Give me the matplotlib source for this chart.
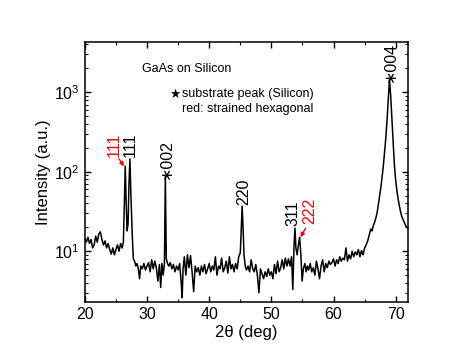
import numpy as np
import matplotlib
matplotlib.use("Agg")
import matplotlib.pyplot as plt
from matplotlib.ticker import MultipleLocator, LogLocator, NullFormatter

plt.rcParams['font.family'] = ['Liberation Sans', 'DejaVu Sans']

# ===========================================
# DATA
# ===========================================
two_theta = [
    20.0, 20.25, 20.5, 20.75, 21.0, 21.25, 21.5, 21.75, 22.0, 22.25,
    22.5, 22.75, 23.0, 23.25, 23.5, 23.75, 24.0, 24.25, 24.5, 24.75,
    25.0, 25.25, 25.5, 25.75, 26.0, 26.2, 26.35, 26.5, 26.65, 26.8,
    26.95, 27.1, 27.25, 27.4, 27.6, 27.8, 28.0, 28.2, 28.4, 28.6,
    28.8, 29.0, 29.25, 29.5, 29.75, 30.0, 30.25, 30.5, 30.75, 31.0,
    31.25, 31.5, 31.75, 32.0, 32.2, 32.4, 32.6, 32.8, 32.95, 33.1,
    33.3, 33.5, 33.75, 34.0, 34.25, 34.5, 34.75, 35.0, 35.25, 35.5,
    35.65, 35.8, 36.0, 36.25, 36.5, 36.75, 37.0, 37.25, 37.5, 37.75,
    38.0, 38.25, 38.5, 38.75, 39.0, 39.25, 39.5, 39.75, 40.0, 40.25,
    40.5, 40.75, 41.0, 41.25, 41.5, 41.75, 42.0, 42.25, 42.5, 42.75,
    43.0, 43.25, 43.5, 43.75, 44.0, 44.25, 44.5, 44.75, 45.0, 45.15,
    45.3, 45.45, 45.6, 45.8, 46.0, 46.25, 46.5, 46.75, 47.0, 47.25,
    47.5, 47.75, 48.0, 48.25, 48.5, 48.75, 49.0, 49.25, 49.5, 49.75,
    50.0, 50.25, 50.5, 50.75, 51.0, 51.25, 51.5, 51.75, 52.0, 52.25,
    52.5, 52.75, 53.0, 53.25, 53.45, 53.65, 53.8, 53.95, 54.15, 54.35,
    54.55, 54.75, 54.95, 55.15, 55.4, 55.6, 55.8, 56.0, 56.25, 56.5,
    56.75, 57.0, 57.25, 57.5, 57.75, 58.0, 58.25, 58.5, 58.75, 59.0,
    59.25, 59.5, 59.75, 60.0, 60.25, 60.5, 60.75, 61.0, 61.25, 61.5,
    61.75, 62.0, 62.25, 62.5, 62.75, 63.0, 63.25, 63.5, 63.75, 64.0,
    64.25, 64.5, 64.75, 65.0, 65.25, 65.5, 65.75, 66.0, 66.2, 66.4,
    66.6, 66.8, 67.0, 67.2, 67.4, 67.6, 67.8, 68.0, 68.2, 68.4,
    68.6, 68.8, 69.0, 69.2, 69.4, 69.6, 69.8, 70.0, 70.2, 70.4,
    70.6, 70.8, 71.0, 71.2, 71.4, 71.6, 71.8, 72.0,
]
intensity = [
    14.5, 13, 15, 12.5, 14, 11, 12, 15.5, 13, 16.5,
    17.5, 14, 12, 13.5, 11, 12.5, 10.5, 9.2, 11, 9,
    10.5, 12, 10, 12.5, 11, 13, 40, 118, 40, 18,
    22, 70, 145, 55, 18, 8, 7.5, 6.5, 7, 6,
    4.5, 6.5, 6, 7, 5.8, 6.5, 7.2, 5.5, 7.8, 6,
    7.5, 6.2, 4.2, 6.8, 3.5, 7, 5, 7, 87, 8,
    7, 6.5, 7.2, 6, 6.8, 5.5, 6.5, 5.8, 7, 4,
    2.6, 6, 8.5, 5, 9, 6.2, 8.8, 5.5, 3.1, 6.5,
    5.5, 6.2, 5, 6.5, 5.5, 6.8, 5.2, 6, 7, 5.5,
    6.5, 5.8, 8.5, 5, 6.5, 6, 8.2, 5.5, 6.2, 7.5,
    5.3, 8.5, 6, 6.8, 5.5, 7, 6, 8.5, 9.5, 18,
    37, 20, 9, 6.5, 5.8, 6.5, 5.5, 7.8, 6, 5.5,
    6.8, 5, 3, 6, 5.2, 4.5, 5.5, 4.8, 6, 5,
    5.5, 4.5, 6.8, 5.2, 7.5, 5.5, 6.2, 7.8, 6, 8.2,
    6.5, 8, 6.5, 8.5, 3.3, 12, 19.5, 11, 9, 12,
    15, 9, 4.2, 6, 7, 5.5, 6.5, 5.8, 7, 5.5,
    6.2, 5, 7.5, 6, 4.5, 6.5, 7.8, 5.5, 7, 6.2,
    7.5, 6.8, 7.2, 8, 6.5, 7.8, 7, 8.5, 7.5, 8.2,
    7.8, 11, 7.5, 9, 8, 10, 8.5, 9.8, 9, 10.5,
    8.5, 10.2, 9, 11, 12, 13.5, 16, 19, 18, 21,
    23, 26, 30, 38, 48, 62, 85, 115, 170, 260,
    430, 800, 1450, 900, 450, 230, 120, 78, 58, 45,
    37, 31, 27, 25, 23, 21, 20, 19.5,
]

# peak labels: text, x, y (bottom of the rotated label), colour
peak_labels = ["111", "111", "∗002", "220", "311", "222", "∗004"]
label_x = [24.7, 27.3, 33.1, 45.6, 53.4, 56.2, 69.2]
label_y = [155, 155, 80, 38, 20.5, 22, 1350]
label_colors = ["red", "black", "black", "black", "black", "red", "black"]

# red arrows from hexagonal labels to their peaks: (start), (end)
arrow_start = [(25.5, 145), (55.5, 19.5)]
arrow_end = [(26.3, 117), (54.7, 15)]

# ===========================================
# PLOT
# ===========================================
fig = plt.figure(figsize=(4.74, 3.62), dpi=100)
ax = fig.add_axes([0.179, 0.166, 0.682, 0.718])

ax.plot(two_theta, intensity, color='black', lw=1.1)
ax.set_yscale('log')
ax.set_xlim(20, 72)
ax.set_ylim(2.3, 4300)

ax.xaxis.set_major_locator(MultipleLocator(10))
ax.xaxis.set_minor_locator(MultipleLocator(5))
ax.yaxis.set_major_locator(LogLocator(base=10, numticks=10))
ax.yaxis.set_minor_locator(LogLocator(base=10, subs=np.arange(2, 10), numticks=20))
ax.yaxis.set_minor_formatter(NullFormatter())
ax.tick_params(which='both', direction='in', top=True, right=True, labelsize=11.5)
ax.tick_params(which='major', length=4, width=1)
ax.tick_params(which='minor', length=2.5, width=0.8)
for s in ax.spines.values():
    s.set_linewidth(1.1)

ax.set_xlabel("2θ (deg)", fontsize=12, labelpad=2)
ax.set_ylabel("Intensity (a.u.)", fontsize=12, labelpad=2)

for txt, x, y, c in zip(peak_labels, label_x, label_y, label_colors):
    ax.text(x, y, txt, rotation=90, ha='center', va='bottom', color=c, fontsize=11.5)

for (x0, y0), (x1, y1) in zip(arrow_start, arrow_end):
    ax.annotate("", xy=(x1, y1), xytext=(x0, y0),
                arrowprops=dict(arrowstyle='-|>', color='red', lw=1, mutation_scale=6,
                                shrinkA=0, shrinkB=0))

ax.text(0.177, 0.895, "GaAs on Silicon", transform=ax.transAxes, fontsize=9, va='center')
ax.text(0.262, 0.8, "★", transform=ax.transAxes, fontsize=9, va='center', ha='left',
        family=['DejaVu Sans'])
ax.text(0.302, 0.8, "substrate peak (Silicon)", transform=ax.transAxes, fontsize=9, va='center')
ax.text(0.302, 0.742, "red: strained hexagonal", transform=ax.transAxes, fontsize=9, va='center')

fig.savefig("out.png", dpi=100)
